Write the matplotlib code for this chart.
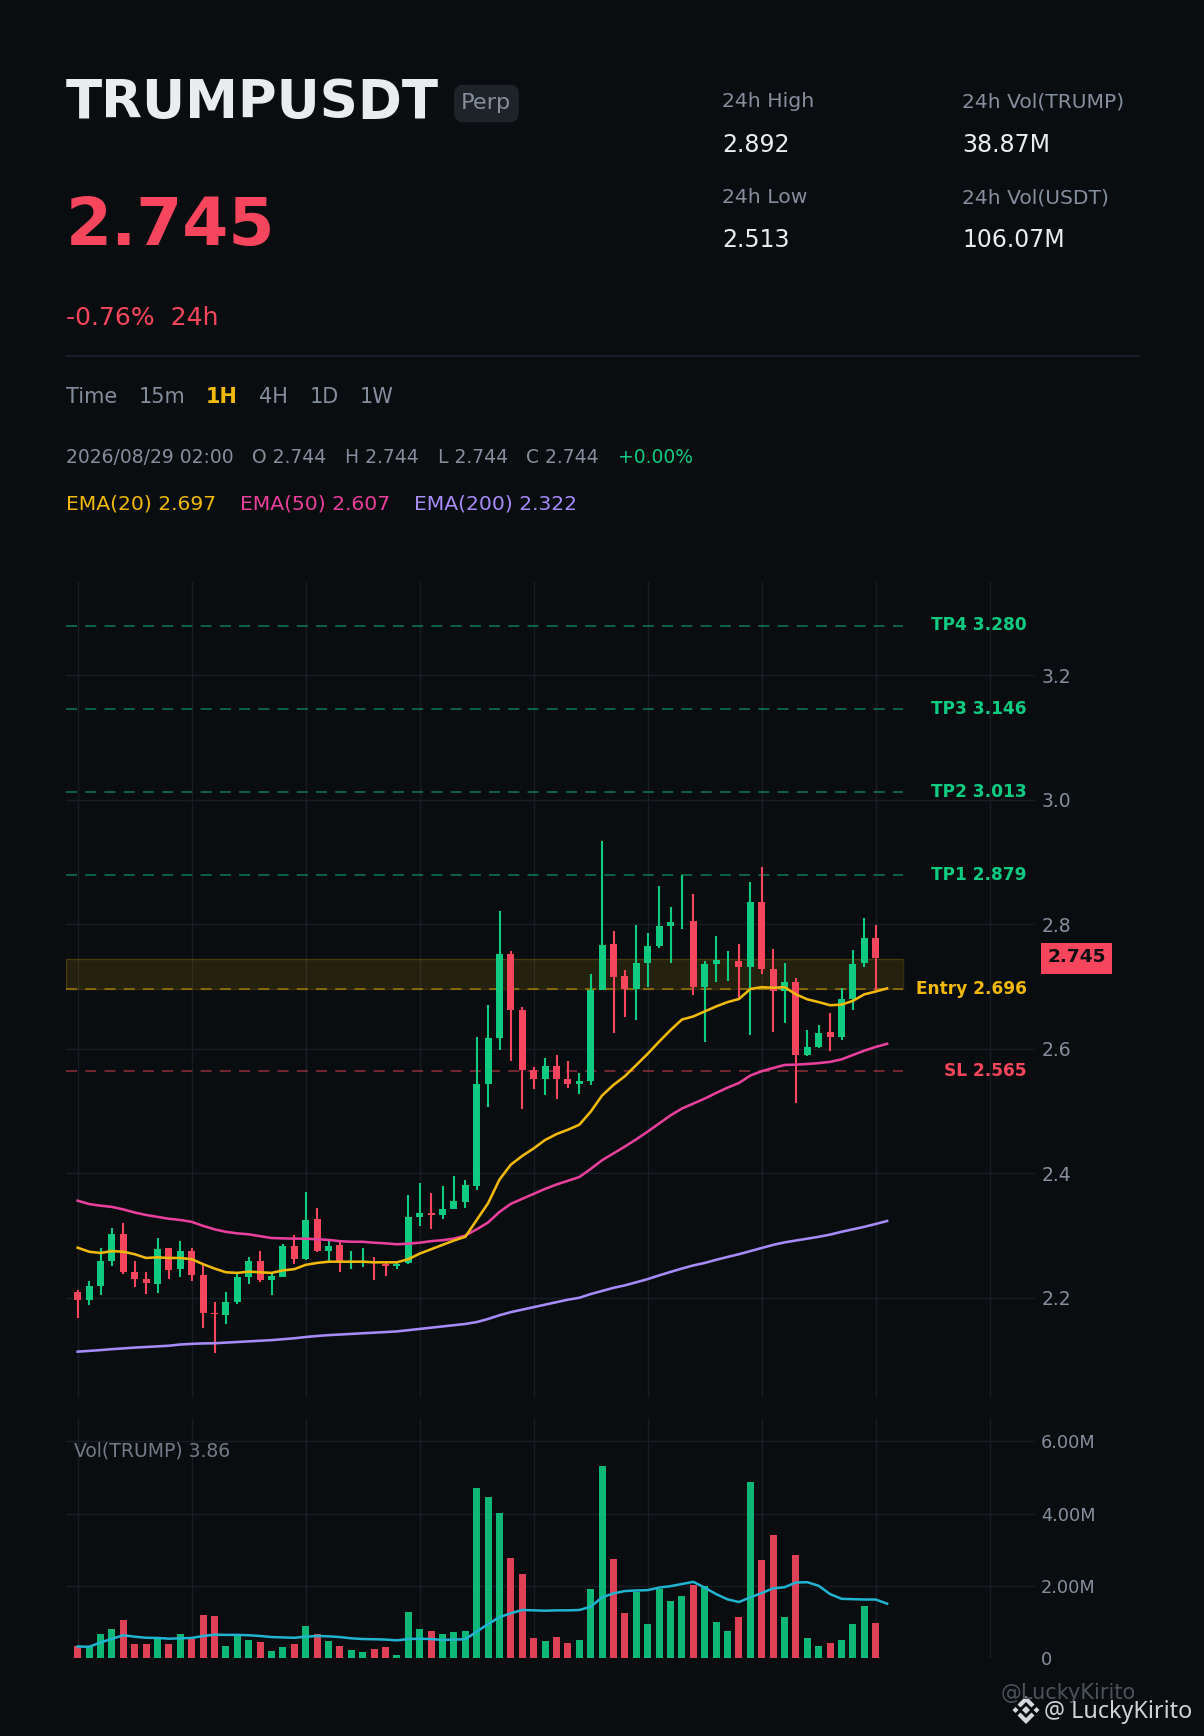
import numpy as np
import matplotlib
matplotlib.use("Agg")
import matplotlib.pyplot as plt
from matplotlib.patches import FancyBboxPatch, Polygon, Rectangle

# ---------- data ----------
opens = [2.209,2.196,2.219,2.259,2.302,2.241,2.230,2.222,2.280,2.246,2.275,2.236,2.176,2.172,2.193,2.233,2.259,2.228,2.233,2.283,
         2.262,2.326,2.275,2.285,2.258,2.258,2.2585,2.254,2.251,2.256,2.329,2.336,2.333,2.342,2.354,2.380,2.5435,2.617,2.752,2.662,
         2.566,2.5515,2.572,2.5515,2.5435,2.548,2.6945,2.768,2.717,2.696,2.738,2.765,2.797,2.805,2.805,2.699,2.736,2.740,2.741,2.7315,
         2.836,2.728,2.693,2.707,2.590,2.603,2.627,2.619,2.680,2.738,2.778,2.744]
highs = [2.213,2.227,2.280,2.312,2.320,2.259,2.241,2.296,2.280,2.291,2.280,2.253,2.193,2.209,2.239,2.265,2.275,2.241,2.286,2.301,
         2.3695,2.345,2.293,2.290,2.275,2.280,2.265,2.256,2.256,2.365,2.384,2.368,2.379,2.395,2.390,2.619,2.670,2.821,2.757,2.667,
         2.571,2.585,2.590,2.580,2.561,2.720,2.934,2.789,2.727,2.799,2.786,2.862,2.828,2.879,2.849,2.741,2.781,2.757,2.768,2.868,
         2.892,2.760,2.738,2.713,2.630,2.638,2.658,2.698,2.759,2.810,2.799,2.744]
lows = [2.167,2.188,2.204,2.251,2.239,2.217,2.206,2.208,2.230,2.233,2.227,2.151,2.111,2.158,2.190,2.222,2.225,2.204,2.233,2.254,
        2.260,2.273,2.259,2.241,2.246,2.249,2.228,2.235,2.246,2.254,2.315,2.310,2.326,2.342,2.344,2.373,2.507,2.598,2.580,2.503,
        2.5355,2.526,2.519,2.537,2.527,2.542,2.6945,2.625,2.651,2.646,2.699,2.762,2.738,2.792,2.686,2.611,2.707,2.709,2.682,2.622,
        2.720,2.627,2.641,2.513,2.588,2.601,2.597,2.614,2.662,2.731,2.693,2.744]
closes = [2.196,2.2185,2.259,2.302,2.241,2.230,2.224,2.278,2.244,2.275,2.236,2.1755,2.174,2.194,2.233,2.259,2.228,2.235,2.283,2.262,
          2.325,2.275,2.283,2.259,2.258,2.258,2.258,2.251,2.254,2.329,2.336,2.333,2.342,2.355,2.381,2.5435,2.617,2.752,2.662,2.566,
          2.5515,2.572,2.5515,2.5435,2.548,2.6945,2.767,2.715,2.696,2.738,2.765,2.797,2.804,2.805,2.699,2.736,2.743,2.740,2.7315,2.836,
          2.728,2.693,2.707,2.590,2.603,2.625,2.619,2.680,2.736,2.778,2.746,2.744]
ema20 = [2.2805,2.274,2.272,2.275,2.274,2.270,2.264,2.265,2.264,2.264,2.262,2.254,2.247,2.241,2.240,2.242,2.241,2.240,2.244,2.246,
         2.253,2.256,2.258,2.258,2.258,2.258,2.257,2.257,2.257,2.262,2.271,2.278,2.285,2.292,2.298,2.325,2.352,2.390,2.414,2.428,
         2.440,2.4535,2.463,2.470,2.478,2.499,2.525,2.542,2.556,2.574,2.592,2.6115,2.630,2.647,2.652,2.660,2.668,2.675,2.680,2.696,
         2.699,2.698,2.699,2.6875,2.6795,2.675,2.670,2.671,2.677,2.6875,2.692,2.697]
ema50 = [2.356,2.3506,2.348,2.346,2.342,2.337,2.333,2.330,2.327,2.325,2.322,2.3155,2.310,2.306,2.3035,2.302,2.299,2.296,2.2955,2.295,
         2.295,2.294,2.293,2.291,2.290,2.290,2.2885,2.2875,2.286,2.287,2.2885,2.291,2.2925,2.295,2.300,2.310,2.321,2.338,2.351,2.359,
         2.367,2.375,2.382,2.388,2.394,2.407,2.421,2.432,2.443,2.4546,2.467,2.480,2.493,2.504,2.512,2.520,2.529,2.5376,2.545,2.557,
         2.564,2.569,2.574,2.5746,2.5756,2.577,2.579,2.583,2.590,2.597,2.603,2.608]
ema200 = [2.1135,2.1147,2.116,2.1175,2.1187,2.120,2.121,2.122,2.123,2.125,2.126,2.1267,2.127,2.128,2.129,2.130,2.131,2.132,2.1335,2.135,
          2.137,2.1387,2.140,2.141,2.142,2.143,2.144,2.145,2.146,2.148,2.150,2.152,2.154,2.156,2.158,2.161,2.166,2.172,2.177,2.181,
          2.185,2.189,2.193,2.197,2.200,2.206,2.211,2.216,2.220,2.225,2.230,2.236,2.2415,2.247,2.252,2.256,2.261,2.2656,2.270,2.275,
          2.280,2.285,2.289,2.292,2.295,2.298,2.3015,2.306,2.310,2.314,2.3186,2.3234]
volume_m = [.33,.30,.665,.80,1.05,.39,.39,.55,.39,.665,.53,1.19,1.16,.33,.64,.50,.44,.19,.30,.39,
            .89,.665,.47,.33,.22,.17,.25,.30,.08,1.27,.80,.75,.665,.72,.75,4.71,4.46,4.01,2.77,2.33,
            .55,.47,.58,.415,.50,1.91,5.32,2.74,1.25,1.83,.94,1.91,1.58,1.72,2.02,1.99,1.0,.75,1.14,4.875,
            2.71,3.41,1.14,2.85,.55,.33,.415,.50,.94,1.44,.97,0.00000386]
vol_ma_m = [.32,.31,.43,.53,.63,.59,.56,.555,.535,.545,.555,.61,.645,.64,.64,.63,.61,.58,.57,.56,
            .59,.61,.60,.58,.545,.525,.52,.51,.49,.525,.535,.525,.50,.51,.52,.73,.94,1.13,1.24,1.33,
            1.32,1.31,1.32,1.32,1.33,1.42,1.68,1.79,1.855,1.87,1.88,1.95,1.99,2.05,2.11,1.95,1.77,1.625,1.55,1.68,
            1.80,1.93,1.96,2.09,2.10,2.00,1.77,1.64,1.63,1.62,1.62,1.505]
level_names = ["TP4", "TP3", "TP2", "TP1", "Entry", "SL"]
level_prices = [3.280, 3.146, 3.013, 2.879, 2.696, 2.565]
level_kinds = ["g", "g", "g", "g", "y", "r"]
zone_low, zone_high = 2.696, 2.744
price_ticks = [2.2, 2.4, 2.6, 2.8, 3.0, 3.2]
vol_ticks = [0, 2, 4, 6]
vol_tick_labels = ["0", "2.00M", "4.00M", "6.00M"]

# ---------- style ----------
W, H = 1204, 1736
BG = "#0a0d10"
GRID = "#181c23"
GREEN = "#0ecb81"
RED = "#f6465d"
YEL = "#f0b90b"
PINK = "#e8409c"
PURP = "#a78bfa"
CYAN = "#20b4d0"
GRAY = "#848e9c"
WHITE = "#eaecef"
kind_col = {"g": GREEN, "y": YEL, "r": RED}

plt.rcParams["font.family"] = ["DejaVu Sans"]
fig = plt.figure(figsize=(W / 100, H / 100), dpi=100, facecolor=BG)

L, R = 66, 1035
def make_axes(top, bottom):
    ax = fig.add_axes([L / W, 1 - bottom / H, (R - L) / W, (bottom - top) / H], facecolor=BG)
    for s in ax.spines.values():
        s.set_visible(False)
    ax.yaxis.tick_right()
    ax.tick_params(axis="both", length=0, pad=4.5, labelcolor=GRAY)
    ax.tick_params(axis="x", labelbottom=False)
    ax.set_xticks(np.arange(0, 81, 10))
    ax.grid(True, color=GRID, lw=1.0)
    ax.set_axisbelow(True)
    step = 11.4
    x0 = 77.7
    ax.set_xlim((L - x0) / step, (R - x0) / step)
    return ax

x = np.arange(len(closes))
o, h, l, c = map(np.array, (opens, highs, lows, closes))
cols = [GREEN if a >= b else RED for a, b in zip(c, o)]

# ---------- price panel ----------
ax = make_axes(582, 1397)
ax.set_ylim(2.8 - (1397 - 924.3) / 622.5, 2.8 + (924.3 - 582) / 622.5)
ax.set_yticks(price_ticks)
ax.set_yticklabels([f"{t:.1f}" for t in price_ticks], fontsize=13.5)

x_end = 72.4
x_left = ax.get_xlim()[0]
ax.add_patch(Rectangle((x_left, zone_low), x_end - x_left, zone_high - zone_low,
                       facecolor=YEL, alpha=0.12, edgecolor="none", zorder=1.5))
ax.add_patch(Rectangle((x_left, zone_low), x_end - x_left, zone_high - zone_low,
                       facecolor="none", edgecolor=YEL, alpha=0.18, lw=1, zorder=1.6))
for name, p, k in zip(level_names, level_prices, level_kinds):
    ax.plot([x_left, x_end], [p, p], color=kind_col[k], lw=1.15, alpha=0.55,
            linestyle=(0, (6.89, 5.15)), dash_capstyle="butt", zorder=1.8)
    ax.text((1026.5 - L) / (R - L), p, f"{name} {p:.3f}", color=kind_col[k], fontsize=12.25,
            fontweight="bold", ha="right", va="center",
            transform=ax.get_yaxis_transform())

ax.vlines(x, l, h, colors=cols, lw=1.5, zorder=3)
ax.bar(x, np.abs(c - o), bottom=np.minimum(o, c), width=0.63, color=cols, linewidth=0, zorder=3.1)
ax.plot(x, ema200, color=PURP, lw=1.85, zorder=4)
ax.plot(x, ema50, color=PINK, lw=1.85, zorder=4.1)
ax.plot(x, ema20, color=YEL, lw=1.85, zorder=4.2)

# ---------- volume panel ----------
av = make_axes(1419, 1658)
av.set_ylim(0, (1658 - 1419) / 36.1)
av.set_yticks(vol_ticks)
av.set_yticklabels(vol_tick_labels, fontsize=12.8)
av.bar(x, volume_m, width=0.63, color=cols, alpha=0.9, linewidth=0, zorder=3)
av.plot(x, vol_ma_m, color=CYAN, lw=1.8, zorder=4)

# ---------- overlay in pixel coordinates ----------
ov = fig.add_axes([0, 0, 1, 1], facecolor="none")
ov.set_xlim(0, W)
ov.set_ylim(H, 0)
ov.axis("off")
def T(px, py, s, color=GRAY, size=14, weight="normal", **kw):
    kw.setdefault("va", "baseline")
    kw.setdefault("ha", "left")
    return ov.text(px, py, s, color=color, fontsize=size, fontweight=weight, **kw)

T(65.5, 118, "TRUMPUSDT", WHITE, 38.2, "bold")
ov.add_patch(FancyBboxPatch((458, 88.5), 57, 30, boxstyle="round,pad=0,rounding_size=5",
                            mutation_aspect=1, facecolor="#1e2329", edgecolor="#1e2329", lw=5.5, joinstyle="round"))
T(461, 109, "Perp", GRAY, 16.2)
T(66, 245, "2.745", RED, 47.7, "bold")
T(66, 325, "-0.76%  24h", RED, 18)
ov.plot([66, 1139], [355.7, 355.7], color="#1c222c", lw=1.2)

stat_x = [722, 962]
T(stat_x[0], 107.3, "24h High", GRAY, 14.7)
T(stat_x[0], 151.7, "2.892", WHITE, 17)
T(stat_x[0], 203.3, "24h Low", GRAY, 14.7)
T(stat_x[0], 246.7, "2.513", WHITE, 17)
T(stat_x[1], 107.3, "24h Vol(TRUMP)", GRAY, 14.6)
T(stat_x[1], 151.7, "38.87M", WHITE, 17)
T(stat_x[1], 203.3, "24h Vol(USDT)", GRAY, 14.6)
T(stat_x[1], 246.7, "106.07M", WHITE, 17)

for px, s in zip([66, 138.5, 259, 310, 359.5], ["Time", "15m", "4H", "1D", "1W"]):
    T(px, 403, s, GRAY, 15)
T(206, 403, "1H", YEL, 15, "bold")

for px, s in zip([66, 252, 345, 437.5, 526], ["2026/08/29 02:00", "O 2.744", "H 2.744", "L 2.744", "C 2.744"]):
    T(px, 462.7, s, GRAY, 13.5)
T(617.5, 462.7, "+0.00%", GREEN, 13.5)

T(66, 510, "EMA(20) 2.697", YEL, 14.55)
T(240.5, 510, "EMA(50) 2.607", PINK, 14.55)
T(414.5, 510, "EMA(200) 2.322", PURP, 14.55)

T(74, 1456.7, "Vol(TRUMP) 3.86", GRAY, 13.5, alpha=0.85)

ov.add_patch(Rectangle((1041, 943), 71, 31, facecolor=RED, edgecolor="none"))
T(1076.5, 956.5, "2.745", "#0a0d10", 13.3, "bold", ha="center", va="center")

T(1001, 1699, "@LuckyKirito", "#4c525a", 15)
T(1044.5, 1718, "@ LuckyKirito", "#cfd2d6", 16.8, family="Noto Sans")
cx, cy = 1026, 1710
logo = [
    [(0, -4), (4, 0), (0, 4), (-4, 0)],
    [(-10.5, -3), (-7.5, 0), (-10.5, 3), (-13.5, 0)],
    [(10.5, -3), (13.5, 0), (10.5, 3), (7.5, 0)],
    [(0, -14), (8.5, -5.5), (5.5, -2.5), (0, -8), (-5.5, -2.5), (-8.5, -5.5)],
    [(0, 14), (8.5, 5.5), (5.5, 2.5), (0, 8), (-5.5, 2.5), (-8.5, 5.5)],
]
for pts in logo:
    ov.add_patch(Polygon([(cx + a, cy + b) for a, b in pts], closed=True, facecolor="#d5d7da", edgecolor="none"))

fig.savefig("out.png", dpi=100, facecolor=BG)
